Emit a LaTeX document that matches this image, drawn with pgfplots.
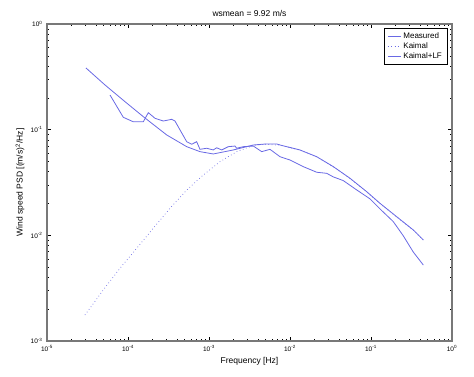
\documentclass[border=0pt]{standalone}
\usepackage{fontspec}
\setmainfont{Liberation Sans}
\usepackage{pgfplots}
\usepackage{pgfplotstable}
\pgfplotsset{compat=1.18}
\definecolor{mblue}{RGB}{105,105,228}
\definecolor{axgray}{RGB}{120,120,120}
\newcommand{\tl}[1]{\fontsize{6.5}{7}\selectfont 10\textsuperscript{#1}}

\pgfplotstableread{
lx ly
-4.222 -0.672
-4.058 -0.883
-3.935 -0.925
-3.811 -0.925
-3.749 -0.839
-3.667 -0.892
-3.564 -0.918
-3.460 -0.902
-3.420 -0.918
-3.275 -1.114
-3.214 -1.138
-3.152 -1.114
-3.111 -1.186
-3.028 -1.176
-2.947 -1.192
-2.905 -1.171
-2.843 -1.192
-2.762 -1.161
-2.679 -1.155
-2.658 -1.176
-2.577 -1.161
-2.453 -1.155
-2.349 -1.208
-2.247 -1.186
-2.123 -1.256
-2.000 -1.287
-1.836 -1.350
-1.670 -1.403
-1.547 -1.413
-1.465 -1.447
-1.342 -1.482
-1.177 -1.570
-1.012 -1.655
-0.889 -1.750
-0.725 -1.870
-0.601 -2.005
-0.478 -2.158
-0.354 -2.281
}\measured

\pgfplotstableread{
lx ly
-4.531 -2.754
-4.305 -2.517
-4.099 -2.312
-3.893 -2.123
-3.688 -1.933
-3.481 -1.744
-3.275 -1.571
-3.070 -1.429
-2.864 -1.303
-2.658 -1.208
-2.453 -1.150
-2.309 -1.138
-2.123 -1.147
-1.877 -1.194
-1.670 -1.258
-1.465 -1.352
-1.259 -1.462
-1.053 -1.589
-0.889 -1.699
-0.683 -1.826
-0.478 -1.951
-0.354 -2.046
}\kaimal

\pgfplotstableread{
lx ly
-4.519 -0.416
-4.284 -0.577
-4.037 -0.735
-3.811 -0.877
-3.522 -1.050
-3.275 -1.161
-3.111 -1.208
-2.947 -1.230
-2.700 -1.192
-2.453 -1.145
-2.309 -1.136
-2.160 -1.136
-2.123 -1.145
-1.877 -1.192
-1.670 -1.256
-1.465 -1.350
-1.259 -1.460
-1.053 -1.587
-0.889 -1.697
-0.683 -1.824
-0.478 -1.949
-0.354 -2.044
}\kaimallf

\begin{document}
\begin{tikzpicture}
\begin{axis}[
  at={(0,0)}, anchor=south west,
  scale only axis, width=405pt, height=317pt,
  xmode=log, ymode=log,
  xmin=1e-5, xmax=1, ymin=1e-3, ymax=1,
  axis line style={axgray, line width=1.1pt},
  tick style={black, line width=0.5pt},
  major tick length=4pt, minor tick length=2.5pt,
  tick align=inside,
  xtick={1e-5,1e-4,1e-3,1e-2,1e-1,1},
  ytick={1e-3,1e-2,1e-1,1},
  xticklabels={\tl{-5},\tl{-4},\tl{-3},\tl{-2},\tl{-1},\tl{0}},
  yticklabels={\tl{-3},\tl{-2},\tl{-1},\tl{0}},
  xticklabel style={yshift=-1pt},
  yticklabel style={xshift=-1pt},
  every axis title shift=0pt,
  title={wsmean = 9.92 m/s},
  title style={font=\fontsize{8.5}{9}\selectfont, at={(axis description cs:0.5,1)}, anchor=center, yshift=11pt},
  xlabel={Frequency [Hz]},
  ylabel={Wind speed PSD [(m/s)\textsuperscript{2}/Hz]},
  every axis x label/.style={at={(axis description cs:0.5,0)}, anchor=center, yshift=-20pt, font=\fontsize{8.5}{9}\selectfont},
  every axis y label/.style={at={(axis description cs:0,0.5)}, rotate=90, anchor=center, yshift=27pt, font=\fontsize{8.5}{9}\selectfont},
  legend style={at={(axis description cs:0.988,0.987)}, anchor=north east,
    font=\fontsize{8}{9}\selectfont, draw=black, line width=0.5pt,
    inner xsep=3pt, inner ysep=2pt, row sep=-1pt, cells={anchor=west}},
  legend image code/.code={\draw[#1] (4pt,0pt) -- (17pt,0pt);},
]
\addplot[mblue, line width=0.8pt] table[x expr={10^(\thisrow{lx})}, y expr={10^(\thisrow{ly})}] {\measured};
\addlegendentry{Measured}
\addplot[mblue, line width=0.7pt, dash pattern=on 0.7pt off 2.6pt] table[x expr={10^(\thisrow{lx})}, y expr={10^(\thisrow{ly})}] {\kaimal};
\addlegendentry{Kaimal}
\addplot[mblue, line width=0.8pt] table[x expr={10^(\thisrow{lx})}, y expr={10^(\thisrow{ly})}] {\kaimallf};
\addlegendentry{Kaimal+LF}
\end{axis}
\path (-47pt,-36pt) rectangle (427pt,341pt);
\end{tikzpicture}
\end{document}
